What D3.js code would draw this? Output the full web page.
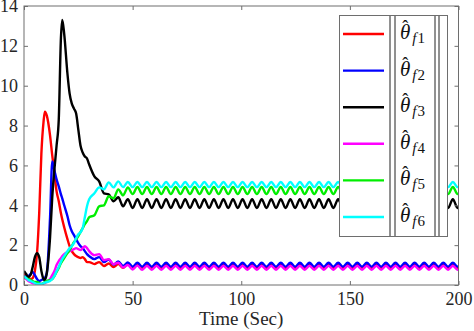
<!DOCTYPE html>
<meta charset="utf-8">
<style>
body { margin: 0; background: white; }
svg { display: block; font-family: "Liberation Serif", "DejaVu Serif", serif; }
</style>
<script src="https://d3js.org/d3.v7.min.js"></script>
<svg id="chart" width="474" height="331"></svg>
<script>
// sample times: dense at the start, then every half wiggle
var tEarly = [0,1,2,3,4,5,6,7,8,9,9.6,10.5,12,13,14,15,16,17,17.6,18.5,20,21,22,23,24,25,26,27,28,29,30];
var tLate = d3.range(32.4, 202, 2.2);
var time = tEarly.concat(tLate);

var theta1 = [0.6,0.45,0.35,0.3,0.35,0.7,1.6,3.6,6.6,8.2,8.7,8.5,7.5,6.5,5.6,4.7,4.2,3.6,3.3,2.9,2.3,1.95,1.7,1.55,1.45,1.4,1.35,1.4,1.3,1.15,1.15,
  1.05,1.15,0.95,1.08,0.9,1.05,
  0.86,1.05,0.86,1.05,0.86,1.05,0.86,1.05,0.86,1.05,0.86,1.05,
  0.86,1.05,0.86,1.05,0.86,1.05,0.86,1.05,0.86,1.05,0.86,1.05,
  0.86,1.05,0.86,1.05,0.86,1.05,0.86,1.05,0.86,1.05,0.86,1.05,
  0.86,1.05,0.86,1.05,0.86,1.05,0.86,1.05,0.86,1.05,0.86,1.05,
  0.86,1.05,0.86,1.05,0.86,1.05,0.86,1.05,0.86,1.05,0.86,1.05,
  0.86,1.05,0.86,1.05,0.86,1.05,0.86,1.05,0.86,1.05,0.86,1.05];
var theta2 = [0.45,0.4,0.45,0.55,0.65,0.5,0.3,0.2,0.25,0.3,0.35,0.6,3.4,6.2,5.75,5.3,4.95,4.55,4.35,4.0,3.45,3.0,2.7,2.5,2.3,2.1,1.95,1.85,1.7,1.55,1.45,
  1.3,1.4,1.15,1.28,1.02,1.18,0.95,1.13,
  0.92,1.12,0.92,1.12,0.92,1.12,0.92,1.12,0.92,1.12,0.92,1.12,0.92,1.12,
  0.92,1.12,0.92,1.12,0.92,1.12,0.92,1.12,0.92,1.12,0.92,1.12,0.92,1.12,
  0.92,1.12,0.92,1.12,0.92,1.12,0.92,1.12,0.92,1.12,0.92,1.12,0.92,1.12,
  0.92,1.12,0.92,1.12,0.92,1.12,0.92,1.12,0.92,1.12,0.92,1.12,0.92,1.12,
  0.92,1.12,0.92,1.12,0.92,1.12,0.92,1.12,0.92,1.12,0.92,1.12,0.92,1.12,0.92,1.12,0.92,1.12,0.92,1.12];
var theta3 = [0.7,0.55,0.4,0.5,0.9,1.4,1.6,1.4,0.7,0.3,0.25,0.6,2.4,4.4,5.8,7.0,8.3,12.4,13.3,12.6,10.6,9.6,9.1,8.85,8.6,7.8,7.0,6.65,6.45,6.35,6.05,
  5.45,5.2,4.6,4.55,4.2,4.4,3.95,4.3,
  3.86,4.3,3.86,4.3,3.86,4.3,3.86,4.3,3.86,4.3,3.86,4.3,3.86,4.3,
  3.86,4.3,3.86,4.3,3.86,4.3,3.86,4.3,3.86,4.3,3.86,4.3,3.86,4.3,
  3.86,4.3,3.86,4.3,3.86,4.3,3.86,4.3,3.86,4.3,3.86,4.3,3.86,4.3,
  3.86,4.3,3.86,4.3,3.86,4.3,3.86,4.3,3.86,4.3,3.86,4.3,3.86,4.3,
  3.86,4.3,3.86,4.3,3.86,4.3,3.86,4.3,3.86,4.3,3.86,4.3,3.86,4.3,3.86,4.3,3.86,4.3,3.86,4.3];
var theta4 = [0.35,0.3,0.2,0.15,0.1,0.08,0.05,0.05,0.05,0.08,0.1,0.15,0.3,0.5,0.7,1.0,1.2,1.35,1.45,1.55,1.65,1.7,1.75,1.8,1.85,1.8,1.75,1.85,1.95,1.85,1.7,
  1.5,1.55,1.25,1.3,1.05,1.12,0.88,1.0,0.78,0.97,
  0.76,0.96,0.76,0.96,0.76,0.96,0.76,0.96,0.76,0.96,0.76,0.96,0.76,0.96,
  0.76,0.96,0.76,0.96,0.76,0.96,0.76,0.96,0.76,0.96,0.76,0.96,0.76,0.96,
  0.76,0.96,0.76,0.96,0.76,0.96,0.76,0.96,0.76,0.96,0.76,0.96,0.76,0.96,
  0.76,0.96,0.76,0.96,0.76,0.96,0.76,0.96,0.76,0.96,0.76,0.96,0.76,0.96,
  0.76,0.96,0.76,0.96,0.76,0.96,0.76,0.96,0.76,0.96,0.76,0.96];
var theta5 = [0.4,0.35,0.3,0.25,0.2,0.15,0.15,0.1,0.05,0.1,0.15,0.2,0.25,0.3,0.45,0.65,0.85,1.1,1.2,1.35,1.6,1.75,1.95,2.15,2.3,2.45,2.65,2.85,3.05,3.2,3.4,
  3.5,3.95,4.0,4.45,4.35,4.8,4.5,4.9,
  4.56,4.92,4.56,4.92,4.56,4.92,4.56,4.92,4.56,4.92,4.56,4.92,4.56,4.92,
  4.56,4.92,4.56,4.92,4.56,4.92,4.56,4.92,4.56,4.92,4.56,4.92,4.56,4.92,
  4.56,4.92,4.56,4.92,4.56,4.92,4.56,4.92,4.56,4.92,4.56,4.92,4.56,4.92,
  4.56,4.92,4.56,4.92,4.56,4.92,4.56,4.92,4.56,4.92,4.56,4.92,4.56,4.92,
  4.56,4.92,4.56,4.92,4.56,4.92,4.56,4.92,4.56,4.92,4.56,4.92,4.56,4.92,4.56,4.92,4.56,4.92,4.56,4.92];
var theta6 = [0.45,0.35,0.25,0.2,0.15,0.1,0.05,0.05,0.05,0.1,0.12,0.15,0.2,0.3,0.45,0.7,0.9,1.15,1.3,1.45,1.7,1.85,1.95,2.1,2.35,2.55,2.65,2.85,3.4,3.95,4.3,
  4.6,4.9,4.8,5.15,4.9,5.2,
  4.91,5.17,4.91,5.17,4.91,5.17,4.91,5.17,4.91,5.17,4.91,5.17,
  4.91,5.17,4.91,5.17,4.91,5.17,4.91,5.17,4.91,5.17,4.91,5.17,
  4.91,5.17,4.91,5.17,4.91,5.17,4.91,5.17,4.91,5.17,4.91,5.17,
  4.91,5.17,4.91,5.17,4.91,5.17,4.91,5.17,4.91,5.17,4.91,5.17,
  4.91,5.17,4.91,5.17,4.91,5.17,4.91,5.17,4.91,5.17,4.91,5.17,
  4.91,5.17,4.91,5.17,4.91,5.17,4.91,5.17,4.91,5.17,4.91,5.17];

var seriesNames = ["f1", "f2", "f3", "f4", "f5", "f6"];
var seriesColors = ["#ff0000", "#0000ff", "#000000", "#ff00ff", "#00ee00", "#00ffff"];
var seriesValues = [theta1, theta2, theta3, theta4, theta5, theta6];
var xTicks = [0, 50, 100, 150, 200];
var yTicks = [0, 2, 4, 6, 8, 10, 12, 14];

function draw() {
  var left = 24, right = 458.5, plotTop = 6, plotBottom = 285;
  var svg = d3.select("#chart");
  var font = "Liberation Serif, DejaVu Serif, serif";

  var x = d3.scaleLinear().domain([0, 200]).range([left, right]);
  var y = d3.scaleLinear().domain([0, 14]).range([plotBottom, plotTop]);

  svg.append("clipPath").attr("id", "plotclip")
    .append("rect").attr("x", left).attr("y", plotTop)
    .attr("width", right - left).attr("height", plotBottom - plotTop);

  // lines
  var line = d3.line()
    .x(function(d, i) { return x(time[i]) })
    .y(function(d) { return y(d) })
    .curve(d3.curveMonotoneX);

  svg.append("g").attr("clip-path", "url(#plotclip)")
    .selectAll("path")
    .data(seriesValues)
    .enter()
    .append("path")
      .attr("d", line)
      .attr("fill", "none")
      .attr("stroke", function(d, i) { return seriesColors[i] })
      .attr("stroke-width", 2.4)
      .attr("stroke-linejoin", "round");

  // axes, matlab style: ticks inside on all four sides
  function styleAxis(g) {
    g.attr("font-family", font).attr("font-size", 18);
    g.select(".domain").remove();
    g.selectAll(".tick line").attr("stroke", "#6e6e6e");
    g.selectAll(".tick text").attr("fill", "#262626");
  }
  svg.append("g").attr("transform", "translate(0," + plotBottom + ")")
    .call(d3.axisBottom(x).tickValues(xTicks).tickSize(-4).tickPadding(7))
    .call(styleAxis);
  svg.append("g").attr("transform", "translate(0," + plotTop + ")")
    .call(d3.axisTop(x).tickValues(xTicks).tickSize(-4).tickFormat(""))
    .call(styleAxis);
  svg.append("g").attr("transform", "translate(" + left + ",0)")
    .call(d3.axisLeft(y).tickValues(yTicks).tickSize(-4).tickPadding(6))
    .call(styleAxis);
  svg.append("g").attr("transform", "translate(" + right + ",0)")
    .call(d3.axisRight(y).tickValues(yTicks).tickSize(-4).tickFormat(""))
    .call(styleAxis);

  svg.append("rect")
    .attr("x", left).attr("y", plotTop)
    .attr("width", right - left).attr("height", plotBottom - plotTop)
    .attr("fill", "none").attr("stroke", "#6e6e6e").attr("stroke-width", 1);

  svg.append("text")
    .attr("x", (left + right) / 2)
    .attr("y", 325)
    .attr("text-anchor", "middle")
    .style("font-size", "19px")
    .style("fill", "#262626")
    .text("Time (Sec)");

  // legend
  var lg = svg.append("g");
  lg.append("rect")
    .attr("x", 339.5).attr("y", 15.5).attr("width", 108).attr("height", 221)
    .attr("fill", "white").attr("stroke", "#6e6e6e").attr("stroke-width", 1);
  [390, 395, 435, 439].forEach(function(vx) {
    lg.append("line").attr("x1", vx).attr("x2", vx).attr("y1", 16).attr("y2", 236)
      .attr("stroke", "#222").attr("stroke-width", 1);
  });
  var rows = lg.selectAll("g.row")
    .data(seriesNames)
    .enter()
    .append("g")
      .attr("class", "row")
      .attr("transform", function(d, i) { return "translate(0," + (34 + i * 36.6) + ")" });
  rows.append("line")
    .attr("x1", 343).attr("x2", 384).attr("y1", 0).attr("y2", 0)
    .attr("stroke", function(d, i) { return seriesColors[i] })
    .attr("stroke-width", 2.4);
  // theta-hat with subscript, one text element
  var lbl = rows.append("text")
    .attr("x", 400).attr("y", 5)
    .style("fill", "#111");
  lbl.append("tspan").style("font-size", "21px").style("font-style", "italic").text("\u03B8");
  lbl.append("tspan").attr("dx", -8).attr("dy", -6).style("font-size", "18px").text("\u02C6");
  lbl.append("tspan").attr("dx", 4).attr("dy", 10).style("font-size", "15px").style("font-style", "italic")
    .text(function(d) { return d[0] });
  lbl.append("tspan").attr("dx", 1).style("font-size", "15px")
    .text(function(d) { return d.slice(1) });
}
draw();
</script>
